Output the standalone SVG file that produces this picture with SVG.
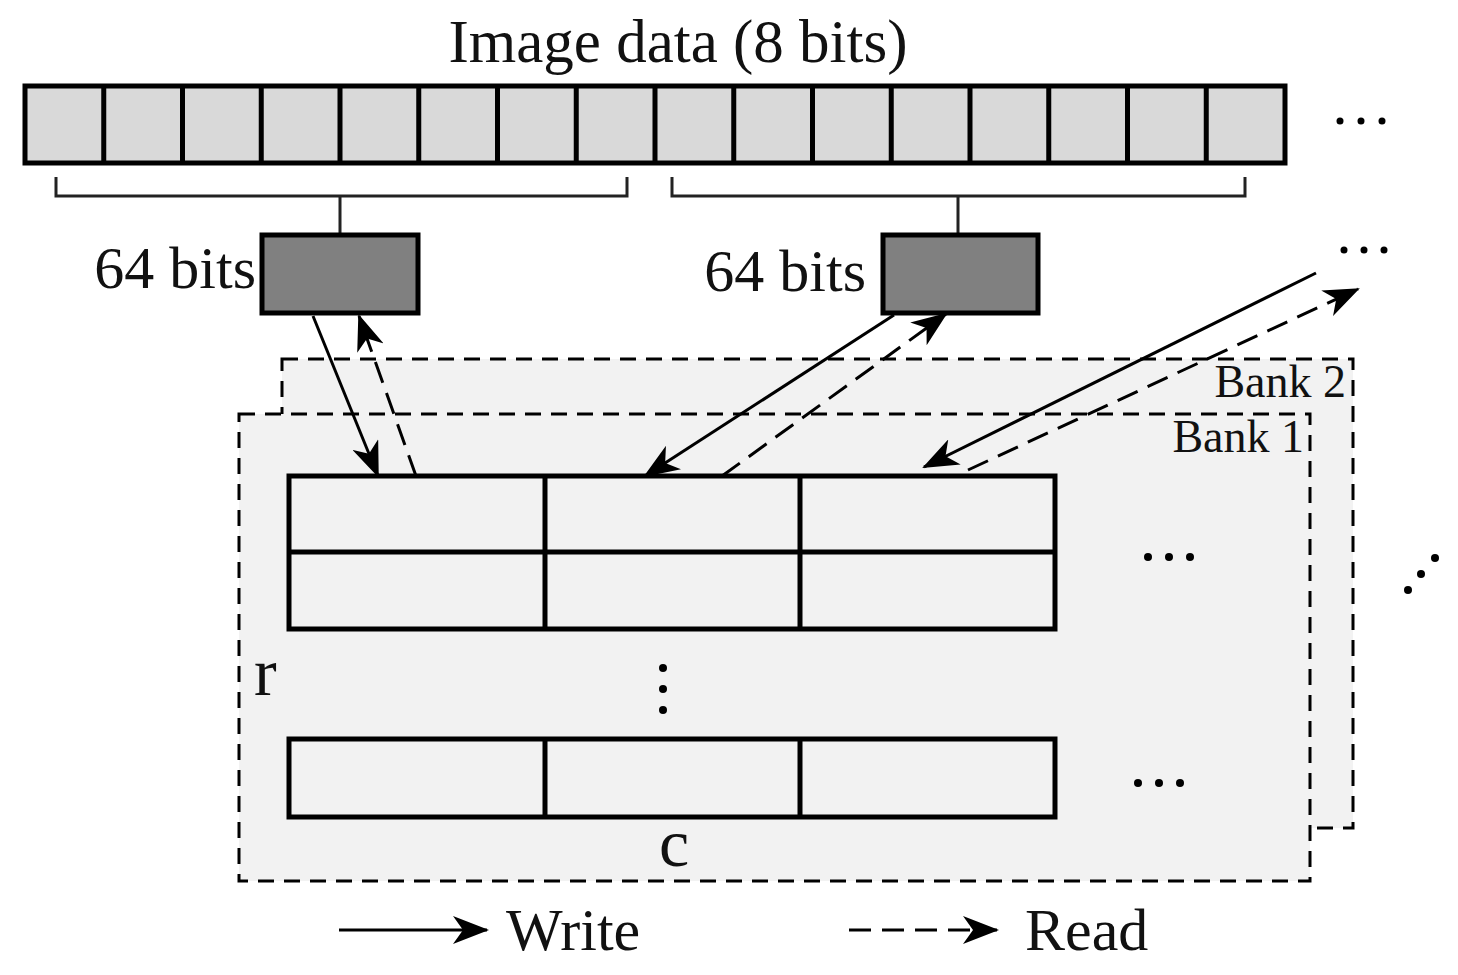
<svg xmlns="http://www.w3.org/2000/svg" width="1458" height="975" viewBox="0 0 1458 975">
<style>
  .t { font-family: "Liberation Serif", "Times New Roman", serif; fill: #111; }
  .cell { fill: #d9d9d9; stroke: #000; stroke-width: 5; }
  .box { fill: #808080; stroke: #000; stroke-width: 5; }
  .bank { fill: #f2f2f2; stroke: #000; stroke-width: 3; stroke-dasharray: 16 10; }
  .grid { fill: none; stroke: #000; stroke-width: 5; }
  .br { fill: none; stroke: #222; stroke-width: 3; }
  .w { fill: none; stroke: #000; stroke-width: 3; marker-end: url(#ah); }
  .r { fill: none; stroke: #000; stroke-width: 3; stroke-dasharray: 22 11; marker-end: url(#ah); }
  .dot { fill: #000; }
</style>
<defs>
  <marker id="ah" viewBox="0 0 36 28" refX="34" refY="14" markerWidth="36" markerHeight="28" markerUnits="userSpaceOnUse" orient="auto">
    <path d="M0,0 L36,14 L0,28 L10,14 Z" fill="#000"/>
  </marker>
</defs>
<rect width="1458" height="975" fill="#fff"/>

<g id="title"><text class="t" x="678" y="62" font-size="61" text-anchor="middle">Image data (8 bits)</text></g>

<g id="image-data">
  <rect class="cell" x="25" y="86" width="1260" height="77"/>
  <path class="grid" d="M103.75,86V163M182.5,86V163M261.25,86V163M340,86V163M418.75,86V163M497.5,86V163M576.25,86V163M655,86V163M733.75,86V163M812.5,86V163M891.25,86V163M970,86V163M1048.75,86V163M1127.5,86V163M1206.25,86V163"/>
  <circle class="dot" cx="1340" cy="121" r="3.5"/><circle class="dot" cx="1361" cy="121" r="3.5"/><circle class="dot" cx="1382" cy="121" r="3.5"/>
</g>

<g id="brackets">
  <path class="br" d="M56,177V196H627V177M340,196V233"/>
  <path class="br" d="M672,177V196H1245V177M958,196V233"/>
</g>

<g id="buffer1">
  <rect class="box" x="262" y="235" width="156" height="78"/>
  <text class="t" x="256" y="288" font-size="60" text-anchor="end">64 bits</text>
</g>
<g id="buffer2">
  <rect class="box" x="883" y="235" width="155" height="78"/>
  <text class="t" x="866" y="291" font-size="60" text-anchor="end">64 bits</text>
</g>
<g id="more-buffers">
  <circle class="dot" cx="1344" cy="250" r="3.5"/><circle class="dot" cx="1364" cy="250" r="3.5"/><circle class="dot" cx="1384" cy="250" r="3.5"/>
</g>

<g id="bank2">
  <rect class="bank" x="282" y="359" width="1071" height="469"/>
  <text class="t" x="1346" y="397" font-size="46" text-anchor="end">Bank 2</text>
</g>
<g id="bank1">
  <rect class="bank" x="239" y="414" width="1071" height="467"/>
  <text class="t" x="1304" y="452" font-size="46" text-anchor="end">Bank 1</text>
</g>

<g id="memory-grid">
  <rect class="grid" x="289" y="476" width="766" height="153"/>
  <path class="grid" d="M289,552H1055M545,476V629M800,476V629"/>
  <rect class="grid" x="289" y="739" width="766" height="78"/>
  <path class="grid" d="M545,739V817M800,739V817"/>
  <text class="t" x="254" y="695" font-size="68">r</text>
  <text class="t" x="674" y="866" font-size="68" text-anchor="middle">c</text>
  <circle class="dot" cx="663" cy="668" r="4"/><circle class="dot" cx="663" cy="689" r="4"/><circle class="dot" cx="663" cy="710" r="4"/>
  <circle class="dot" cx="1148" cy="557" r="4"/><circle class="dot" cx="1169" cy="557" r="4"/><circle class="dot" cx="1190" cy="557" r="4"/>
  <circle class="dot" cx="1138" cy="783" r="4"/><circle class="dot" cx="1159" cy="783" r="4"/><circle class="dot" cx="1180" cy="783" r="4"/>
  <circle class="dot" cx="1408" cy="590" r="4"/><circle class="dot" cx="1421" cy="574" r="4"/><circle class="dot" cx="1435" cy="558" r="4"/>
</g>

<g id="connectors">
  <path class="w" d="M313,316L378,476"/>
  <path class="r" d="M416,476L359,316"/>
  <path class="w" d="M894,315L645,476"/>
  <path class="r" d="M722,476L946,314"/>
  <path class="w" d="M1316,273L924,467"/>
  <path class="r" d="M968,470L1358,289"/>
</g>

<g id="legend">
  <path class="w" d="M339,930H487"/>
  <text class="t" x="506" y="950" font-size="60">Write</text>
  <path class="r" d="M849,930H997" stroke-dasharray="22 10"/>
  <text class="t" x="1025" y="950" font-size="60">Read</text>
</g>
</svg>
